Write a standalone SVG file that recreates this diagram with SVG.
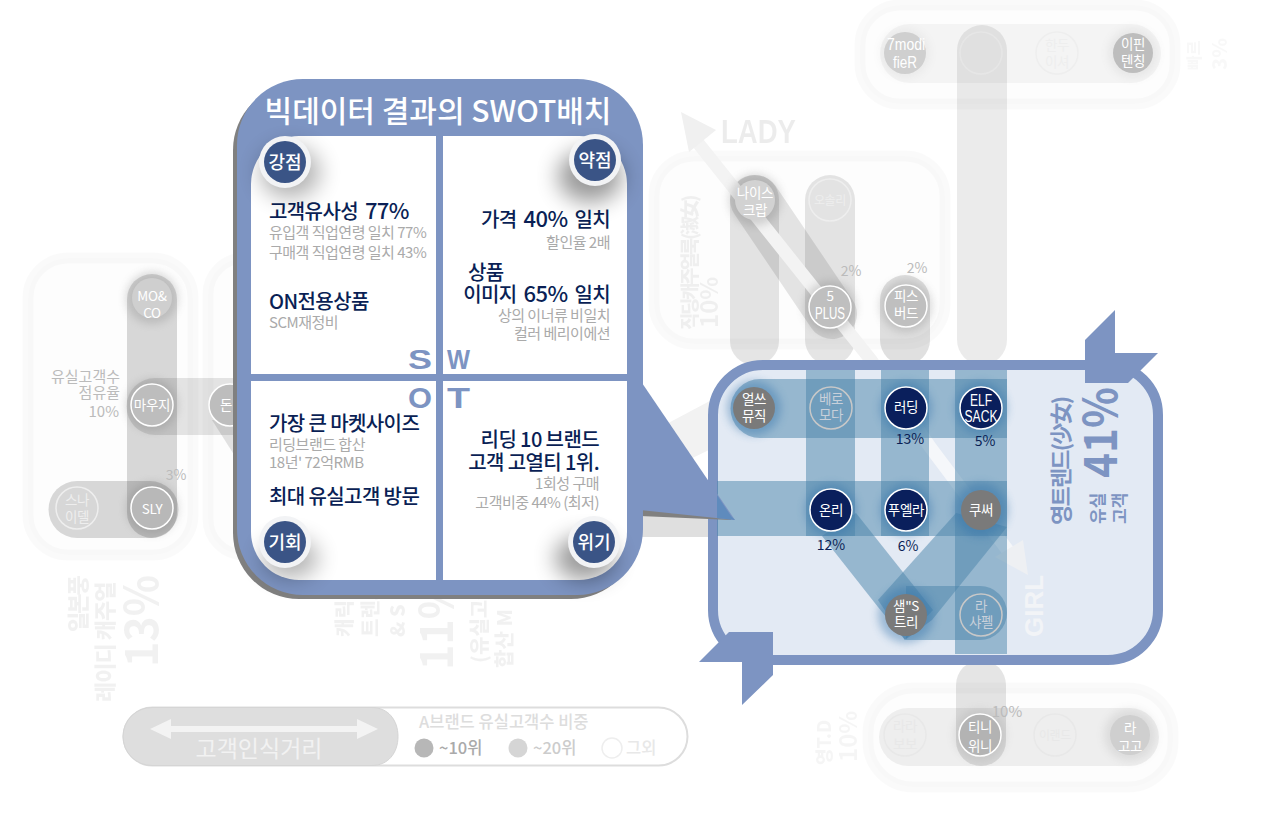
<svg xmlns="http://www.w3.org/2000/svg" width="1280" height="834" viewBox="0 0 1280 834">
<defs>
<filter id="b3" x="-50%" y="-50%" width="200%" height="200%"><feGaussianBlur stdDeviation="4"/></filter>
<filter id="b4" x="-50%" y="-50%" width="200%" height="200%"><feGaussianBlur stdDeviation="4"/></filter>
<filter id="b12" x="-80%" y="-80%" width="260%" height="260%"><feGaussianBlur stdDeviation="11"/></filter>
<clipPath id="panelClip"><rect x="717" y="370" width="437" height="284" rx="44"/></clipPath>
</defs>
<style>
text{font-family:"Noto Sans CJK KR","Noto Sans",sans-serif}
.gband{fill:#000;opacity:.11}
.ring{fill:#000;fill-opacity:.006;stroke:#000;stroke-opacity:.018;stroke-width:11}
.nl{fill:#fff;font-size:13.500px;text-anchor:middle;letter-spacing:-.3px}
.cn{fill:#fff;font-size:16px;text-anchor:middle;font-family:"Liberation Sans",sans-serif}
.hd{fill:#0a1f55;font-size:20px;font-weight:500;letter-spacing:-.6px}
.hn{word-spacing:3px}
.num{font-size:22px}
.sb{fill:#aaa;font-size:15px;letter-spacing:-.5px}
.end{text-anchor:end}
.bt{fill:#fff;font-size:18px;font-weight:500;text-anchor:middle}
.fnt{font-weight:900;fill:#000;opacity:.05}
.pct{font-size:14px;fill:#0a1f55;text-anchor:middle}
.gpct{font-size:14px;fill:#bbb;text-anchor:middle}
.blue{fill:#7d94c2}
.pb{fill:#4a84aa;opacity:.5}
.halo{fill:#777;opacity:.28;filter:url(#b4)}
.glow{fill:#2f6fa8;opacity:.4;filter:url(#b3)}
.ltr{font-family:"Liberation Sans",sans-serif;font-weight:700;fill:#7d94c2}
</style>
<rect width="1280" height="834" fill="#fff"/>

<g id="connectors">
<rect x="860" y="5" width="315" height="99" rx="40" class="ring"/>
<rect x="880" y="24" width="281" height="59" rx="29.500" class="gband" style="opacity:.035"/>
<rect x="957" y="25" width="50" height="340" rx="25" class="gband" style="opacity:.08"/>
<rect x="654" y="156" width="291" height="188" rx="40" class="ring"/>
<rect x="730" y="175" width="49" height="190" rx="24" class="gband" style="opacity:.1"/>
<rect x="805" y="175" width="50" height="190" rx="25" class="gband" style="opacity:.1"/>
<rect x="880" y="275" width="50" height="90" rx="25" class="gband" style="opacity:.12"/>
<line x1="755" y1="200" x2="832" y2="314" stroke="#000" stroke-opacity=".1" stroke-width="50" stroke-linecap="round"/>
<rect x="28" y="258" width="165" height="297" rx="40" class="ring"/>
<rect x="208" y="258" width="80" height="297" rx="36" class="ring"/>
<rect x="127" y="274" width="50" height="264" rx="25" class="gband" style="opacity:.15"/>
<path d="M155,378 H250 V435 H155 A28,28 0 0 1 155,378Z" class="gband" style="opacity:.1"/>
<path d="M77,481 H150 A28,28 0 0 1 150,538 H77 A28,28 0 0 1 77,481Z" class="gband" style="opacity:.15"/>
<polygon points="212,420 244,420 270,470 250,480" class="gband"/>
<polygon points="640,438 740,385 760,425 668,470 640,470" fill="#f2f2f2"/>
<rect x="640" y="512" width="75" height="25" fill="#dfdfdf"/>
<rect x="868" y="688" width="305" height="99" rx="45" class="ring"/>
<rect x="879" y="708" width="280" height="58" rx="29" class="gband" style="opacity:.06"/>
<rect x="956" y="660" width="50" height="106" rx="25" class="gband" style="opacity:.1"/>
<polyline points="698,143 871,360 915,425" fill="none" stroke="#f3f3f3" stroke-width="13"/>
<polygon points="681,112 716,130 689,152" fill="#f0f0f0"/>
</g>

<g id="top-group">
<circle cx="905" cy="53" r="25" class="halo" style="opacity:.08"/>
<circle cx="905" cy="53" r="21" fill="#cfcfcf"/>
<text class="cn" x="906" y="50" textLength="38" lengthAdjust="spacingAndGlyphs">7modi</text>
<text class="cn" x="905" y="68" textLength="24" lengthAdjust="spacingAndGlyphs">fieR</text>
<circle cx="981" cy="53" r="21" fill="none" stroke="#e6e6e6" stroke-width="1.500"/>
<circle cx="1057" cy="53" r="21" fill="none" stroke="#eee" stroke-width="1.500"/>
<text class="nl" style="fill:#eee"><tspan x="1057" y="50">한두</tspan><tspan x="1057" y="67">이셔</tspan></text>
<circle cx="1133" cy="53" r="25" class="halo" style="opacity:.1"/>
<circle cx="1133" cy="53" r="20" fill="#bdbdbd"/>
<text class="nl"><tspan x="1133" y="49">이핀</tspan><tspan x="1133" y="66">텐칭</tspan></text>
<text class="fnt" font-size="16" transform="translate(1200,70) rotate(-90)" style="opacity:.025">빠르</text>
<text class="fnt" font-size="20" transform="translate(1227,70) rotate(-90)" style="opacity:.025">3%</text>
</g>

<g id="lady-group">
<text class="fnt" x="721" y="143" font-size="33" textLength="75" lengthAdjust="spacingAndGlyphs" style="opacity:.07;font-family:'Liberation Sans',sans-serif;font-weight:700">LADY</text>
<text class="fnt" font-size="19" letter-spacing="-2.500" transform="translate(697,330) rotate(-90)">직딩캐주얼룩(淑女)</text>
<text class="fnt" font-size="24" transform="translate(718,328) rotate(-90)" style="font-weight:700">10%</text>
<circle cx="755" cy="200" r="26" class="halo"/>
<circle cx="755" cy="200" r="20" fill="#d2d2d2"/>
<text class="nl"><tspan x="755" y="198">나이스</tspan><tspan x="755" y="215">크랍</tspan></text>
<circle cx="830" cy="200" r="21" fill="none" stroke="#eee" stroke-width="1.500"/>
<text class="nl" x="830" y="205" style="fill:#eee;font-size:12px">오솔리</text>
<circle cx="830" cy="307" r="26" class="halo"/>
<circle cx="830" cy="307" r="21" fill="#bfbfbf" stroke="#fff" stroke-width="1.500"/>
<text class="nl" x="830" y="301">5</text>
<text class="cn" x="830" y="319" textLength="30" lengthAdjust="spacingAndGlyphs">PLUS</text>
<circle cx="906" cy="306" r="26" class="halo"/>
<circle cx="906" cy="306" r="21" fill="#bfbfbf" stroke="#fff" stroke-width="1.500"/>
<text class="nl"><tspan x="906" y="301">피스</tspan><tspan x="906" y="318">버드</tspan></text>
<text class="gpct" x="851" y="276">2%</text>
<text class="gpct" x="917" y="273">2%</text>
</g>

<g id="left-group">
<circle cx="152" cy="298" r="26" class="halo"/>
<circle cx="152" cy="298" r="20" fill="#cfcfcf"/>
<text class="nl"><tspan x="152" y="301">MO&amp;</tspan><tspan x="152" y="318">CO</tspan></text>
<circle cx="152" cy="405" r="26" class="halo"/>
<circle cx="152" cy="405" r="21" fill="#bdbdbd" stroke="#fff" stroke-width="1.500"/>
<text class="nl" x="152" y="410">마우지</text>
<circle cx="152" cy="508" r="26" class="halo"/>
<circle cx="152" cy="508" r="21" fill="#b8b8b8" stroke="#fff" stroke-width="1.500"/>
<text class="nl" x="152" y="514">SLY</text>
<circle cx="77" cy="508" r="21" fill="none" stroke="#eeeeee" stroke-width="1.500"/>
<text class="nl" style="fill:#eeeeee"><tspan x="77" y="505">스나</tspan><tspan x="77" y="522">이델</tspan></text>
<circle cx="230" cy="405" r="21" fill="#bdbdbd" stroke="#fff" stroke-width="1.500"/>
<text class="nl" x="226" y="410">돈</text>
<text font-size="15" fill="#bbb" text-anchor="end"><tspan x="120" y="382">유실고객수</tspan><tspan x="120" y="398">점유율</tspan><tspan x="119" y="417">10%</tspan></text>
<text class="gpct" x="176" y="480">3%</text>
<text class="fnt" font-size="22" letter-spacing="-2" transform="translate(86,632) rotate(-90)">일본풍</text>
<text class="fnt" font-size="22" letter-spacing="-1" transform="translate(113,702) rotate(-90)">레이디 캐주얼</text>
<text class="fnt" font-size="46" textLength="92" lengthAdjust="spacingAndGlyphs" transform="translate(158,667) rotate(-90)" style="font-weight:700">13%</text>
<text class="fnt" font-size="20" transform="translate(352,637) rotate(-90)">캐릭터</text>
<text class="fnt" font-size="20" transform="translate(378,637) rotate(-90)">트렌드</text>
<text class="fnt" font-size="20" transform="translate(405,637) rotate(-90)">&amp; S</text>
<text class="fnt" font-size="46" textLength="92" lengthAdjust="spacingAndGlyphs" transform="translate(453,670) rotate(-90)" style="font-weight:700">11%</text>
<text class="fnt" font-size="20" transform="translate(487,663) rotate(-90)">(유실고객</text>
<text class="fnt" font-size="20" transform="translate(512,668) rotate(-90)">합산 M</text>
</g>

<g id="bottom-group">
<circle cx="905" cy="735" r="21" fill="none" stroke="#e8e8e8" stroke-width="1.500"/>
<text class="nl" style="fill:#e8e8e8"><tspan x="905" y="731">라라</tspan><tspan x="905" y="749">보보</tspan></text>
<circle cx="980" cy="735" r="26" class="halo" style="opacity:.15"/>
<circle cx="980" cy="735" r="21" fill="#b3b3b3" stroke="#fff" stroke-width="1.500"/>
<text class="nl"><tspan x="980" y="732">티니</tspan><tspan x="980" y="751">위니</tspan></text>
<circle cx="1055" cy="735" r="21" fill="none" stroke="#e8e8e8" stroke-width="1.500"/>
<text class="nl" x="1055" y="740" style="fill:#e8e8e8;font-size:12px">이랜드</text>
<circle cx="1130" cy="735" r="26" class="halo" style="opacity:.15"/>
<circle cx="1130" cy="735" r="20" fill="#cfcfcf"/>
<text class="nl"><tspan x="1130" y="733">라</tspan><tspan x="1130" y="751">고고</tspan></text>
<text class="gpct" x="1007" y="717" style="font-size:15px">10%</text>
<text class="fnt" font-size="18" transform="translate(831,765) rotate(-90)" style="opacity:.035">영T.D</text>
<text class="fnt" font-size="24" transform="translate(857,762) rotate(-90)" style="opacity:.035;font-weight:700">10%</text>
</g>

<g id="legend">
<rect x="123.500" y="707.500" width="564" height="58" rx="29" fill="#fff" stroke="#ddd" stroke-width="2"/>
<path d="M152,707.500 H372 C388,707.500 398,720 398,736.500 C398,753 388,765.500 372,765.500 H152 A29,29 0 0 1 152,707.500Z" fill="#dedede" stroke="#d5d5d5"/>
<polygon points="150,729 171,719 171,726 357,726 357,719 378,729 357,739 357,732 171,732 171,739" fill="#f3f3f3"/>
<text x="259" y="757" font-size="23" fill="#f2f2f2" text-anchor="middle">고객인식거리</text>
<text x="419" y="728" font-size="16.500" font-weight="500" fill="#ddd">A브랜드 유실고객수 비중</text>
<circle cx="424" cy="748" r="9.500" fill="#b7b7b7"/>
<text x="439" y="754" font-size="16.500" font-weight="500" fill="#aaa">~10위</text>
<circle cx="518" cy="748" r="9.500" fill="#d5d5d5"/>
<text x="533" y="754" font-size="16.500" font-weight="500" fill="#ccc">~20위</text>
<circle cx="612" cy="748" r="10" fill="#fff" stroke="#eee" stroke-width="1.500"/>
<text x="626" y="754" font-size="16.500" font-weight="500" fill="#e8e8e8">그외</text>
</g>

<g id="trend-panel">
<rect x="713" y="365" width="445" height="295" rx="50" fill="#e3eaf4" stroke="#7d94c2" stroke-width="10"/>
<polygon class="blue" points="1115,310 1085,340 1085,383 1128,383 1158,353 1115,353"/>
<polygon class="blue" points="699,662 729,632 773,632 773,675 742,705 742,662"/>
<polyline points="915,425 930,447 1012,556" fill="none" stroke="#f5f7fa" stroke-width="13"/>
<polygon points="1023,540 1028,575 995,557" fill="#eef0f3"/>
<text transform="translate(1043,637) rotate(-90)" font-size="26" font-weight="700" fill="#f2f4f7" style="font-family:'Liberation Sans',sans-serif">GIRL</text>
<g clip-path="url(#panelClip)">
<rect x="806" y="370" width="49" height="166" class="pb"/>
<rect x="881" y="370" width="48" height="166" class="pb"/>
<rect x="955" y="370" width="52" height="290" class="pb"/>
<path d="M760,379 H1007 V438 H760 A29.500,29.500 0 0 1 760,379Z" class="pb"/>
<rect x="713" y="481" width="294" height="55" class="pb"/>
<polygon points="822,536 856,513 933,610 905,640 878,607" class="pb"/>
<polygon points="956,513 1007,527 932,620 905,640 878,600" class="pb"/>
<path d="M906,586 H980 A27,27 0 0 1 980,640 H906 Z" class="pb"/>
</g>
<text transform="translate(1069,525) rotate(-90)" font-size="22" font-weight="700" letter-spacing="-1.800" fill="#7d94c2">영트렌드(少女)</text>
<text transform="translate(1117,478) rotate(-90)" font-size="46" font-weight="700" textLength="91" lengthAdjust="spacingAndGlyphs" fill="#7d94c2">41%</text>
<text transform="translate(1104,524) rotate(-90)" font-size="17" font-weight="700" fill="#7d94c2">유실</text>
<text transform="translate(1126,524) rotate(-90)" font-size="17" font-weight="700" fill="#7d94c2">고객</text>
</g>

<g id="n-eolsseu"><circle cx="754" cy="408" r="27" class="glow"/><circle cx="754" cy="408" r="21" fill="#7a7a7a"/><text class="nl"><tspan x="754" y="404">얼쓰</tspan><tspan x="754" y="421">뮤직</tspan></text></g>
<g id="n-vero"><circle cx="831" cy="408" r="21" fill="none" stroke="#c8c8c8" stroke-width="1.500"/><text class="nl" style="fill:#c8d0da"><tspan x="831" y="404">베로</tspan><tspan x="831" y="420">모다</tspan></text></g>
<g id="n-reading"><circle cx="906" cy="408" r="26" class="glow"/><circle cx="906" cy="408" r="21" fill="#0a1f5c" stroke="#fff" stroke-width="1.500"/><text class="nl" x="906" y="412">러딩</text></g>
<g id="n-elf"><circle cx="981" cy="408" r="26" class="glow"/><circle cx="981" cy="408" r="21" fill="#0a1f5c" stroke="#fff" stroke-width="1.500"/><text class="cn" x="981" y="406" textLength="22" lengthAdjust="spacingAndGlyphs">ELF</text><text class="cn" x="981" y="422" textLength="33" lengthAdjust="spacingAndGlyphs">SACK</text></g>
<g id="n-only"><circle cx="831" cy="510" r="26" class="glow"/><circle cx="831" cy="510" r="21" fill="#0a1f5c" stroke="#fff" stroke-width="1.500"/><text class="nl" x="831" y="515">온리</text></g>
<g id="n-puella"><circle cx="906" cy="510" r="26" class="glow"/><circle cx="906" cy="510" r="21" fill="#0a1f5c" stroke="#fff" stroke-width="1.500"/><text class="nl" x="906" y="515">푸엘라</text></g>
<g id="n-coocer"><circle cx="981" cy="510" r="27" class="glow"/><circle cx="981" cy="510" r="20" fill="#7a7a7a"/><text class="nl" x="981" y="515">쿠써</text></g>
<g id="n-sams"><circle cx="906" cy="615" r="28" class="glow"/><circle cx="906" cy="615" r="21" fill="#7a7a7a"/><text class="nl"><tspan x="906" y="611">샘"S</tspan><tspan x="906" y="627">트리</tspan></text></g>
<g id="n-lachapelle"><circle cx="981" cy="615" r="21" fill="none" stroke="#c8c8c8" stroke-width="1.500"/><text class="nl" style="fill:#c8d0da"><tspan x="981" y="611">라</tspan><tspan x="981" y="627">샤펠</tspan></text></g>
<g id="panel-pct">
<text class="pct" x="910" y="444">13%</text>
<text class="pct" x="985" y="446">5%</text>
<text class="pct" x="831" y="550">12%</text>
<text class="pct" x="908" y="551">6%</text>
</g>

<g id="swot-card">
<polygon points="640,509 731,516 731,520 640,516" fill="#808080"/>
<polygon class="blue" points="640,380 735,520 640,510"/>
<polygon points="717,495 731,516 735,520 717,518" fill="#5f8bbd"/>
<rect x="233" y="84" width="404" height="515" rx="66" fill="#808080"/>
<rect x="237" y="79" width="406" height="516" rx="66" class="blue"/>
<rect x="251" y="136" width="376" height="444" rx="48" fill="#fff"/>
<rect x="436" y="136" width="7" height="444" class="blue"/>
<rect x="251" y="374" width="376" height="7" class="blue"/>
<text x="438" y="122" font-size="30" font-weight="500" fill="#fff" text-anchor="middle">빅데이터 결과의 SWOT배치</text>
<text class="ltr" x="408" y="369" font-size="27" textLength="24" lengthAdjust="spacingAndGlyphs">S</text>
<text class="ltr" x="447" y="369" font-size="27" textLength="23" lengthAdjust="spacingAndGlyphs">W</text>
<text class="ltr" x="408" y="408" font-size="29" textLength="24" lengthAdjust="spacingAndGlyphs">O</text>
<text class="ltr" x="447" y="408" font-size="29" textLength="23" lengthAdjust="spacingAndGlyphs">T</text>
<text class="hd hn" x="269" y="219">고객유사성 <tspan class="num">77%</tspan></text>
<text class="sb"><tspan x="269" y="238">유입객 직업연령 일치 77%</tspan><tspan x="269" y="258">구매객 직업연령 일치 43%</tspan></text>
<text class="hd" x="269" y="309">ON전용상품</text>
<text class="sb" x="269" y="328">SCM재정비</text>
<text class="hd hn end" x="610" y="227">가격 <tspan class="num">40%</tspan> 일치</text>
<text class="sb end" x="610" y="248">할인율 2배</text>
<text class="hd"><tspan x="468" y="280">상품</tspan></text>
<text class="hd hn end" x="610" y="302">이미지 <tspan class="num">65%</tspan> 일치</text>
<text class="sb end"><tspan x="610" y="321">상의 이너류 비일치</tspan><tspan x="610" y="339">컬러 베리이에션</tspan></text>
<text class="hd" x="269" y="431">가장 큰 마켓사이즈</text>
<text class="sb"><tspan x="269" y="450">리딩브랜드 합산</tspan><tspan x="269" y="468">18년' 72억RMB</tspan></text>
<text class="hd" x="269" y="504">최대 유실고객 방문</text>
<text class="hd end"><tspan x="599" y="447">리딩 10 브랜드</tspan><tspan x="599" y="470">고객 고열티 1위.</tspan></text>
<text class="sb end"><tspan x="599" y="489">1회성 구매</tspan><tspan x="599" y="508">고객비중 44% (최저)</tspan></text>
</g>

<g id="badge-s"><ellipse cx="290" cy="172" rx="30" ry="26" fill="#000" opacity=".3" filter="url(#b12)"/><circle cx="285" cy="162" r="26" fill="#f2f3f5"/><circle cx="285" cy="162" r="21" fill="#3a5486"/><text class="bt" x="285" y="169">강점</text></g>
<g id="badge-w"><ellipse cx="590" cy="176" rx="32" ry="26" fill="#000" opacity=".4" filter="url(#b12)"/><circle cx="595" cy="160" r="26" fill="#f2f3f5"/><circle cx="595" cy="160" r="21" fill="#3a5486"/><text class="bt" x="595" y="167">약점</text></g>
<g id="badge-o"><ellipse cx="290" cy="558" rx="28" ry="20" fill="#000" opacity=".3" filter="url(#b12)"/><circle cx="285" cy="542" r="26" fill="#f2f3f5"/><circle cx="285" cy="542" r="21" fill="#3a5486"/><text class="bt" x="285" y="549">기회</text></g>
<g id="badge-t"><ellipse cx="585" cy="558" rx="30" ry="22" fill="#000" opacity=".4" filter="url(#b12)"/><circle cx="594" cy="542" r="26" fill="#f2f3f5"/><circle cx="594" cy="542" r="21" fill="#3a5486"/><text class="bt" x="594" y="549">위기</text></g>
</svg>
